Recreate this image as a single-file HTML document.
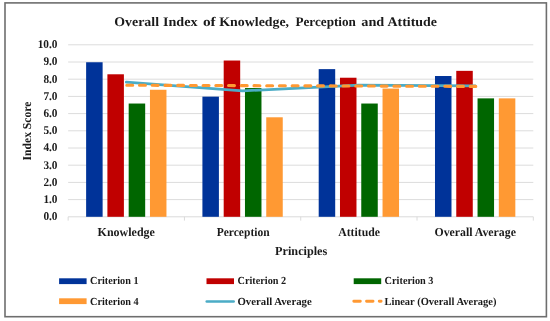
<!DOCTYPE html>
<html lang="en">
<head>
<meta charset="utf-8">
<title>Overall Index of Knowledge, Perception and Attitude</title>
<style>
html,body{margin:0;padding:0;background:#fff;}
body{width:550px;height:321px;overflow:hidden;}
svg{display:block;}
text{font-family:"Liberation Serif",serif;font-weight:bold;fill:#1a1a1a;text-rendering:geometricPrecision;}
</style>
</head>
<body>
<svg width="550" height="321" viewBox="0 0 550 321">
<rect x="0" y="0" width="550" height="321" fill="#ffffff"/>
<rect x="5" y="2.9" width="541.4" height="313.8" fill="#ffffff" stroke="#6e6e6e" stroke-width="1.6"/>
<g stroke="#dcdcdc" stroke-width="1" fill="none">
<line x1="68.15" y1="199.60" x2="533.30" y2="199.60"/>
<line x1="68.15" y1="182.40" x2="533.30" y2="182.40"/>
<line x1="68.15" y1="165.20" x2="533.30" y2="165.20"/>
<line x1="68.15" y1="148.00" x2="533.30" y2="148.00"/>
<line x1="68.15" y1="130.80" x2="533.30" y2="130.80"/>
<line x1="68.15" y1="113.60" x2="533.30" y2="113.60"/>
<line x1="68.15" y1="96.40" x2="533.30" y2="96.40"/>
<line x1="68.15" y1="79.20" x2="533.30" y2="79.20"/>
<line x1="68.15" y1="62.00" x2="533.30" y2="62.00"/>
<line x1="68.15" y1="44.80" x2="533.30" y2="44.80"/>
</g>
<g stroke="#d6d6d6" stroke-width="0.9" fill="none">
<line x1="68.15" y1="216.80" x2="533.30" y2="216.80"/>
<line x1="68.15" y1="216.80" x2="68.15" y2="220.60"/>
<line x1="184.44" y1="216.80" x2="184.44" y2="220.60"/>
<line x1="300.73" y1="216.80" x2="300.73" y2="220.60"/>
<line x1="417.01" y1="216.80" x2="417.01" y2="220.60"/>
<line x1="533.30" y1="216.80" x2="533.30" y2="220.60"/>
</g>
<rect x="86.12" y="62.25" width="16.50" height="154.55" fill="#003399"/>
<rect x="107.40" y="74.29" width="16.50" height="142.51" fill="#C00000"/>
<rect x="128.68" y="103.53" width="16.50" height="113.27" fill="#006600"/>
<rect x="149.96" y="89.77" width="16.50" height="127.03" fill="#FF9933"/>
<rect x="202.41" y="96.65" width="16.50" height="120.15" fill="#003399"/>
<rect x="223.69" y="60.53" width="16.50" height="156.27" fill="#C00000"/>
<rect x="244.97" y="88.05" width="16.50" height="128.75" fill="#006600"/>
<rect x="266.25" y="117.29" width="16.50" height="99.51" fill="#FF9933"/>
<rect x="318.70" y="69.13" width="16.50" height="147.67" fill="#003399"/>
<rect x="339.98" y="77.73" width="16.50" height="139.07" fill="#C00000"/>
<rect x="361.26" y="103.53" width="16.50" height="113.27" fill="#006600"/>
<rect x="382.54" y="88.57" width="16.50" height="128.23" fill="#FF9933"/>
<rect x="434.99" y="76.01" width="16.50" height="140.79" fill="#003399"/>
<rect x="456.27" y="70.85" width="16.50" height="145.95" fill="#C00000"/>
<rect x="477.55" y="98.37" width="16.50" height="118.43" fill="#006600"/>
<rect x="498.83" y="98.37" width="16.50" height="118.43" fill="#FF9933"/>
<polyline points="126.29,82.12 242.58,90.90 358.87,85.05 475.16,85.87" fill="none" stroke="#4BACC6" stroke-width="2.7" stroke-linecap="round" stroke-linejoin="round"/>
<line x1="126.79" y1="85.22" x2="475.76" y2="86.42" stroke="#FF9933" stroke-width="3.1" stroke-linecap="round" stroke-dasharray="5.9 6.82"/>
<text y="26.4" font-size="13.1"><tspan x="114.3" textLength="44.7" lengthAdjust="spacingAndGlyphs">Overall</tspan> <tspan x="163.0" textLength="34.6" lengthAdjust="spacingAndGlyphs">Index</tspan> <tspan x="202.9" textLength="12.8" lengthAdjust="spacingAndGlyphs">of</tspan> <tspan x="219.3" textLength="69.8" lengthAdjust="spacingAndGlyphs">Knowledge,</tspan> <tspan x="295.5" textLength="60.4" lengthAdjust="spacingAndGlyphs">Perception</tspan> <tspan x="361.3" textLength="23.0" lengthAdjust="spacingAndGlyphs">and</tspan> <tspan x="387.5" textLength="49.5" lengthAdjust="spacingAndGlyphs">Attitude</tspan></text>
<text x="43.40" y="220.20" font-size="11.9" text-anchor="start" textLength="14.1" lengthAdjust="spacingAndGlyphs">0.0</text>
<text x="43.40" y="203.00" font-size="11.9" text-anchor="start" textLength="14.1" lengthAdjust="spacingAndGlyphs">1.0</text>
<text x="43.40" y="185.80" font-size="11.9" text-anchor="start" textLength="14.1" lengthAdjust="spacingAndGlyphs">2.0</text>
<text x="43.40" y="168.60" font-size="11.9" text-anchor="start" textLength="14.1" lengthAdjust="spacingAndGlyphs">3.0</text>
<text x="43.40" y="151.40" font-size="11.9" text-anchor="start" textLength="14.1" lengthAdjust="spacingAndGlyphs">4.0</text>
<text x="43.40" y="134.20" font-size="11.9" text-anchor="start" textLength="14.1" lengthAdjust="spacingAndGlyphs">5.0</text>
<text x="43.40" y="117.00" font-size="11.9" text-anchor="start" textLength="14.1" lengthAdjust="spacingAndGlyphs">6.0</text>
<text x="43.40" y="99.80" font-size="11.9" text-anchor="start" textLength="14.1" lengthAdjust="spacingAndGlyphs">7.0</text>
<text x="43.40" y="82.60" font-size="11.9" text-anchor="start" textLength="14.1" lengthAdjust="spacingAndGlyphs">8.0</text>
<text x="43.40" y="65.40" font-size="11.9" text-anchor="start" textLength="14.1" lengthAdjust="spacingAndGlyphs">9.0</text>
<text x="37.70" y="48.20" font-size="11.9" text-anchor="start" textLength="19.8" lengthAdjust="spacingAndGlyphs">10.0</text>
<text x="97.60" y="236.00" font-size="12.1" text-anchor="start" textLength="57.3" lengthAdjust="spacingAndGlyphs">Knowledge</text>
<text x="216.70" y="236.00" font-size="12.1" text-anchor="start" textLength="52.9" lengthAdjust="spacingAndGlyphs">Perception</text>
<text x="338.20" y="236.00" font-size="12.1" text-anchor="start" textLength="41.8" lengthAdjust="spacingAndGlyphs">Attitude</text>
<text x="434.50" y="236.00" font-size="12.1" text-anchor="start" textLength="81.4" lengthAdjust="spacingAndGlyphs">Overall Average</text>
<text x="275.10" y="254.90" font-size="12.3" text-anchor="start" textLength="52.2" lengthAdjust="spacingAndGlyphs">Principles</text>
<text transform="translate(31.2,160.4) rotate(-90)" font-size="12.1" textLength="58.7" lengthAdjust="spacingAndGlyphs">Index Score</text>
<rect x="59.10" y="278.30" width="27.5" height="5.8" fill="#003399"/>
<text x="90.10" y="284.40" font-size="10.8" text-anchor="start" textLength="48.4" lengthAdjust="spacingAndGlyphs">Criterion 1</text>
<rect x="206.50" y="278.30" width="27.5" height="5.8" fill="#C00000"/>
<text x="237.50" y="284.40" font-size="10.8" text-anchor="start" textLength="48.7" lengthAdjust="spacingAndGlyphs">Criterion 2</text>
<rect x="353.70" y="278.30" width="27.5" height="5.8" fill="#006600"/>
<text x="384.60" y="284.40" font-size="10.8" text-anchor="start" textLength="48.9" lengthAdjust="spacingAndGlyphs">Criterion 3</text>
<rect x="59.10" y="298.30" width="27.5" height="5.8" fill="#FF9933"/>
<text x="90.10" y="304.55" font-size="10.8" text-anchor="start" textLength="48.6" lengthAdjust="spacingAndGlyphs">Criterion 4</text>
<line x1="206.7" y1="301.6" x2="233.7" y2="301.6" stroke="#4BACC6" stroke-width="2.5" stroke-linecap="round"/>
<text x="237.50" y="304.55" font-size="10.8" text-anchor="start" textLength="74.2" lengthAdjust="spacingAndGlyphs">Overall Average</text>
<line x1="353.8" y1="301.3" x2="381.1" y2="301.3" stroke="#FF9933" stroke-width="2.9" stroke-linecap="round" stroke-dasharray="6.5 6.23"/>
<text x="384.50" y="304.55" font-size="10.8" text-anchor="start" textLength="111.9" lengthAdjust="spacingAndGlyphs">Linear (Overall Average)</text>
</svg>
</body>
</html>
